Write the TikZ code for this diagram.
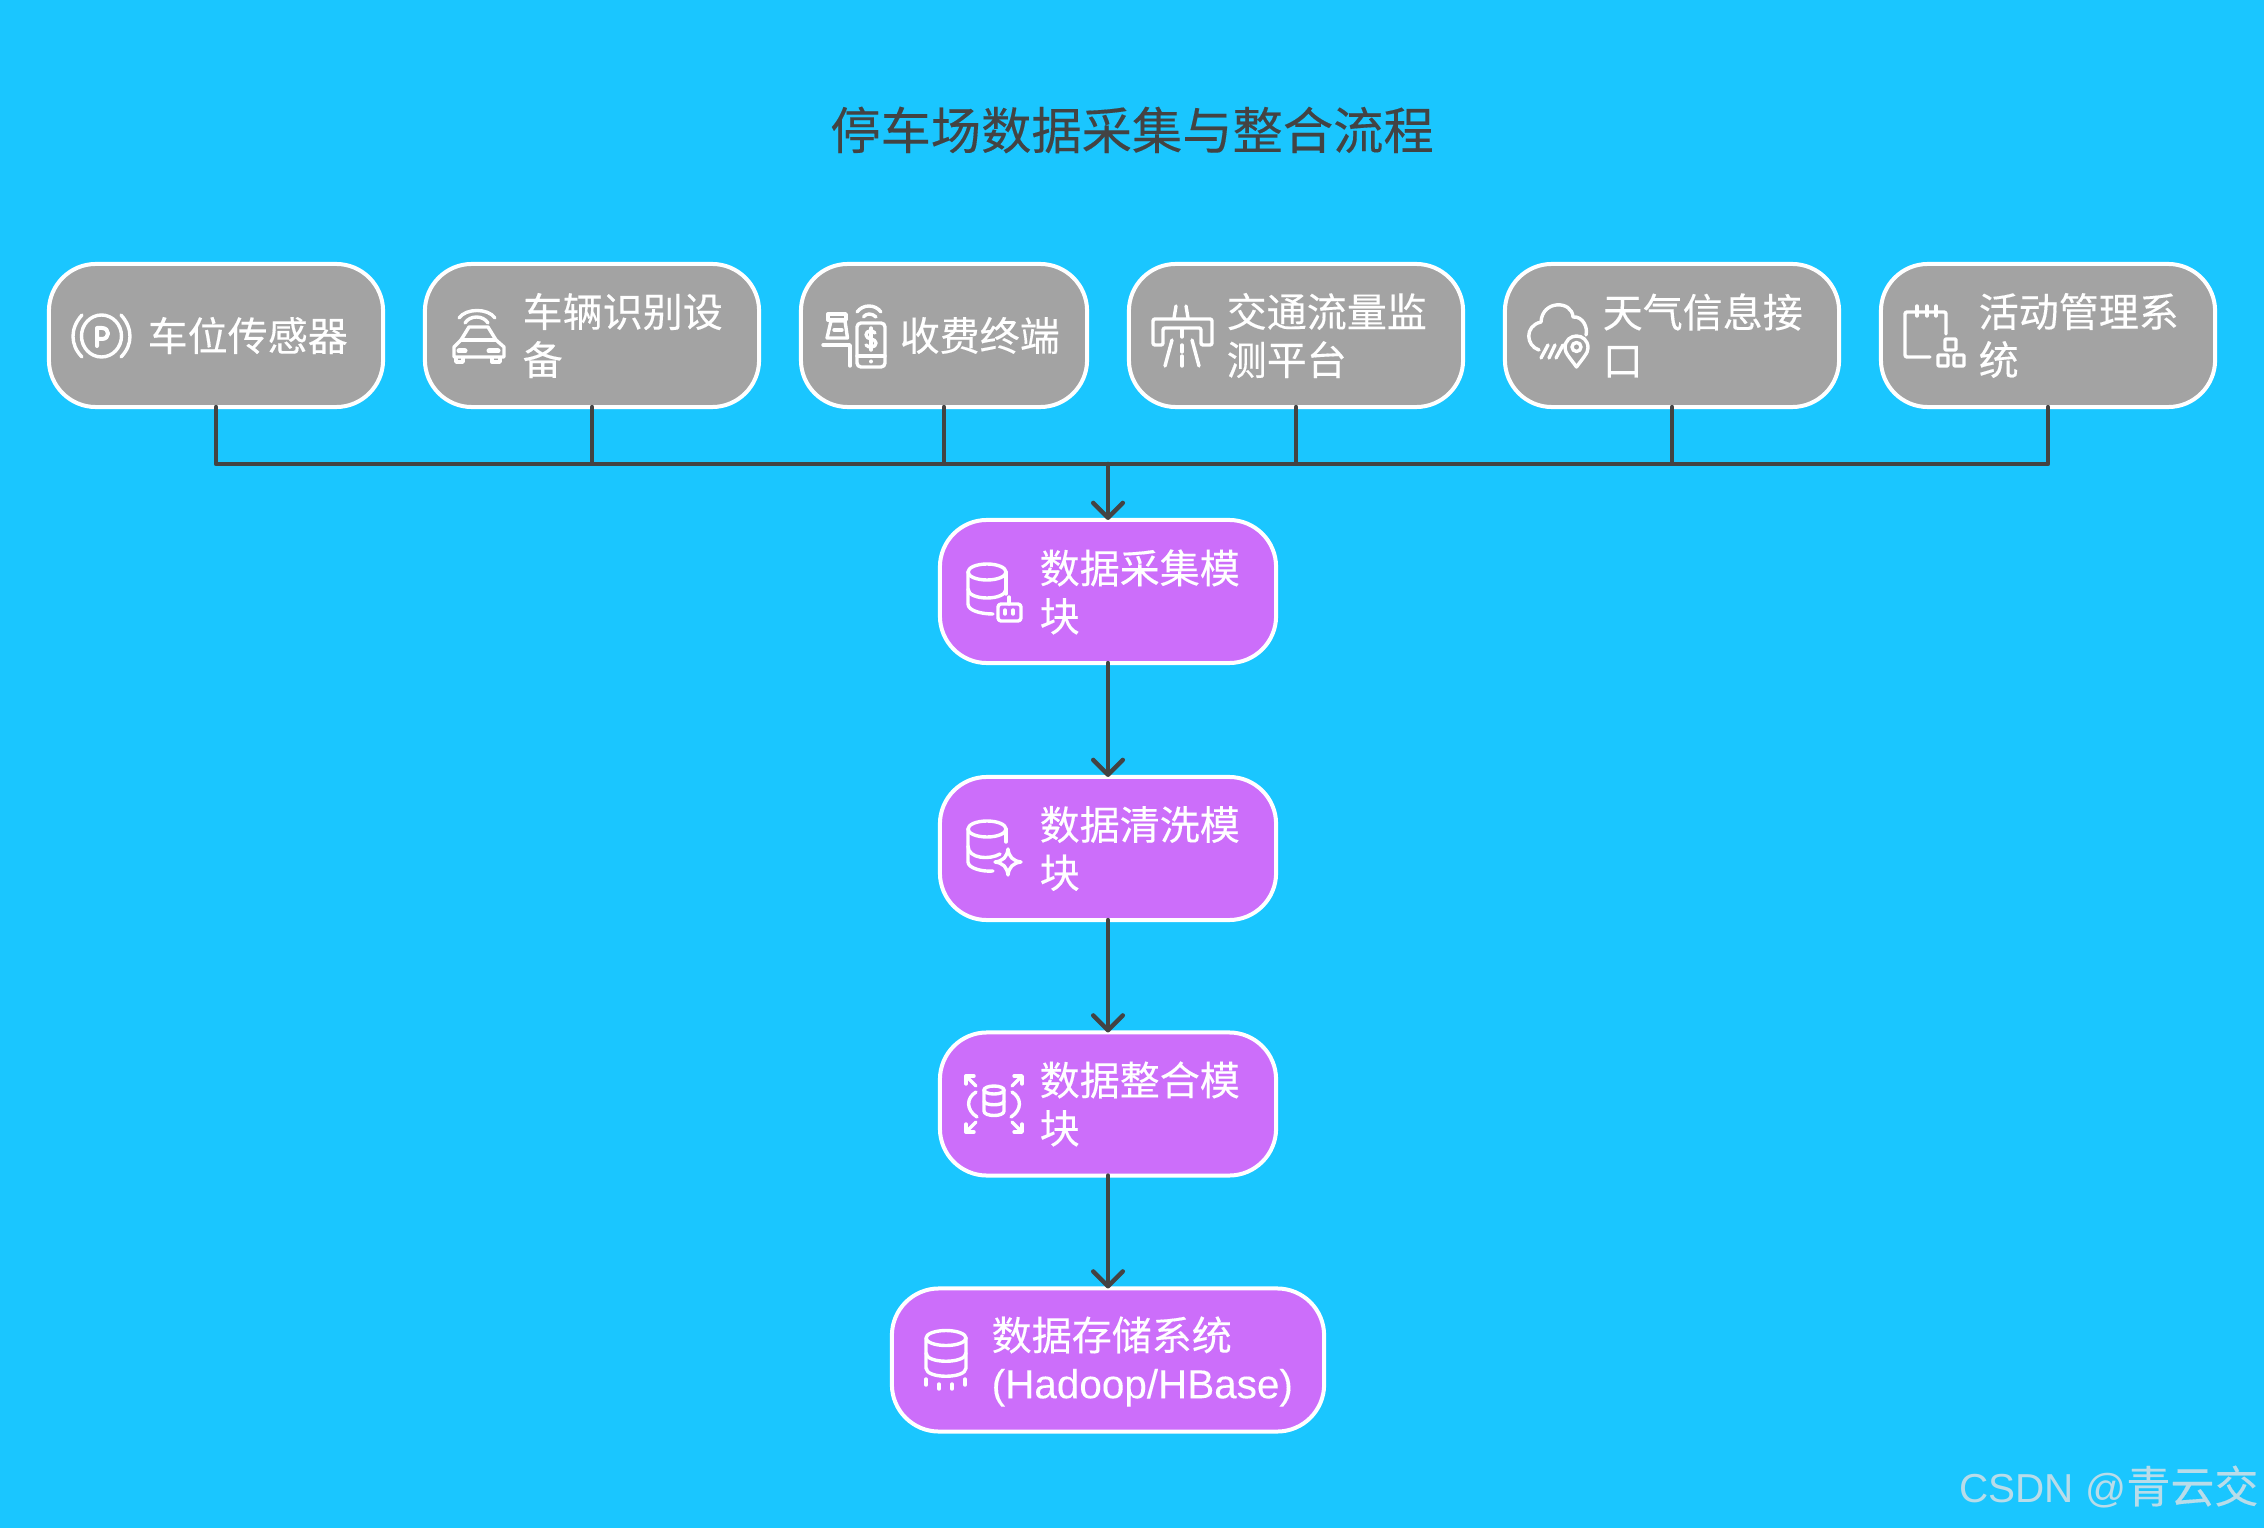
\documentclass[tikz,border=0pt]{standalone}
\usepackage{fontspec}
\usepackage{xcolor}
\usepackage{tikz}
\usetikzlibrary{arrows.meta}
\setmainfont[FakeBold=0.25]{Noto Sans CJK SC}
\newfontfamily\latinfont[FakeBold=0.15]{Liberation Sans}
\newfontfamily\markfont{Liberation Sans}
\definecolor{skybg}{HTML}{1AC6FF}
\definecolor{greyfill}{HTML}{A3A3A3}
\definecolor{purplefill}{HTML}{CC6EFA}
\definecolor{inkgrey}{HTML}{434343}
\definecolor{markgrey}{HTML}{B8DCE9}
\tikzset{>={Straight Barb[length=4.2pt,width=8.4pt,round]}}
\tikzset{
  boxbase/.style={draw=white,line width=0.04cm,rounded corners=0.47cm,inner sep=0pt,outer sep=0pt,minimum height=1.43cm},
  greybox/.style={boxbase,fill=greyfill,minimum width=3.34cm},
  midbox/.style={boxbase,fill=purplefill,minimum width=3.36cm},
  storebox/.style={boxbase,fill=purplefill,minimum width=4.32cm},
  boxtext/.style={anchor=west,align=left,text=white,inner sep=0pt,font=\fontsize{11.38pt}{13.66pt}\selectfont},
  link/.style={draw=inkgrey,line width=0.045cm,line cap=round,line join=round},
  icon/.style={draw=white,line width=0.034cm,line cap=round,line join=round}
}

\begin{document}
\begin{tikzpicture}[x=0.01cm,y=-0.01cm]
        % Background
        \fill[skybg] (0,0) rectangle (2264,1528);
        \useasboundingbox (0,0) rectangle (2264,1528);
        \node[text=inkgrey,font=\fontsize{14.3pt}{17pt}\selectfont] at (1132, 130) (title) {停车场数据采集与整合流程};

        % Sources
        \node[greybox] at (216, 335.5) (sensor) {};
        \node[greybox] at (592, 335.5) (camera) {};
        \node[greybox,minimum width=2.86cm] at (944, 335.5) (toll) {};
        \node[greybox] at (1296, 335.5) (traffic) {};
        \node[greybox] at (1672, 335.5) (weather) {};
        \node[greybox] at (2048, 335.5) (events) {};
        \node[boxtext] at (147, 335.5) (sensortext) {车位传感器};
        \node[boxtext] at (522, 335.5) (cameratext) {车辆识别设\\备};
        \node[boxtext] at (899, 335.5) (tolltext) {收费终端};
        \node[boxtext] at (1226, 335.5) (traffictext) {交通流量监\\测平台};
        \node[boxtext] at (1602, 335.5) (weathertext) {天气信息接\\口};
        \node[boxtext] at (1978, 335.5) (eventstext) {活动管理系\\统};

        % Modules
        \node[midbox] at (1108, 591.5) (collect) {};
        \node[midbox] at (1108, 848.5) (clean) {};
        \node[midbox] at (1108, 1104) (merge) {};
        \node[storebox] at (1108, 1360) (store) {};
        \node[boxtext] at (1039, 592) (collecttext) {数据采集模\\块};
        \node[boxtext] at (1039, 848.5) (cleantext) {数据清洗模\\块};
        \node[boxtext] at (1039, 1104) (mergetext) {数据整合模\\块};
        \node[boxtext] at (991, 1361.5) (storetext) {数据存储系统\\{\latinfont\fontsize{11.5pt}{13.66pt}\selectfont (Hadoop/HBase)}};

        % Connectors
        \coordinate (bus) at (1108, 464);
        \draw[link] (sensor.south) |- (bus);
        \draw[link] (camera.south) |- (bus);
        \draw[link] (toll.south) |- (bus);
        \draw[link] (traffic.south) |- (bus);
        \draw[link] (weather.south) |- (bus);
        \draw[link] (events.south) |- (bus);
        \draw[link,->] (bus) -- (collect.north);
        \draw[link,->] (collect.south) -- (clean.north);
        \draw[link,->] (clean.south) -- (merge.north);
        \draw[link,->] (merge.south) -- (store.north);

        % Parking icon
        \draw[icon] (101.5,336) ellipse [x radius=20,y radius=21];
        \draw[icon] (82,315) .. controls (70,328) and (70,345) .. (82,357);
        \draw[icon] (121,315) .. controls (133,328) and (133,345) .. (121,357);
        \draw[icon,line width=0.04cm] (97,346) -- (97,328) -- (102,328) .. controls (110,328) and (110,339) .. (102,339) -- (97,339);

        % Car icon
        \draw[icon] (459,318) .. controls (466,308) and (488,308) .. (495,318);
        \draw[icon] (465,323) .. controls (470,315) and (483,315) .. (488,323);
        \draw[icon] (469,327) -- (488,327) -- (496,340) -- (504,347) -- (504,357) -- (454,357) -- (454,347) -- (461,340) -- cycle;
        \draw[icon] (461,340) -- (496,340);
        \draw[icon,line width=0.05cm] (459,351) -- (465,351);
        \draw[icon,line width=0.05cm] (489,351) -- (498,351);
        \draw[icon] (456,358) -- (456,362) -- (463,362) -- (463,358);
        \draw[icon] (492,358) -- (492,362) -- (500,362) -- (500,358);

        % Toll icon
        \draw[icon,rounded corners=0.04cm] (857,323) rectangle (885,367);
        \draw[icon] (857,356) -- (885,356);
        \fill[white] (871,361.5) circle [radius=2];
        \draw[icon] (875,333) .. controls (873,330) and (866,330) .. (866,335) .. controls (866,340) and (876,338) .. (876,343) .. controls (876,348) and (868,348) .. (866,345);
        \draw[icon] (871,328) -- (871,350);
        \draw[icon] (857,312) .. controls (863,304) and (875,304) .. (881,312);
        \draw[icon] (863.5,317) .. controls (866,313) and (872,313) .. (876,317);
        \draw[icon] (828,314) rectangle (846,320);
        \draw[icon] (831,321) -- (845,321) -- (847.5,338) -- (827,338) -- cycle;
        \draw[icon] (834,330) -- (842,330);
        \draw[icon] (823,345) -- (850,345) -- (850,366);

        % Gantry icon
        \draw[icon,rounded corners=0.02cm] (1153,345) -- (1153,319) -- (1212,319) -- (1212,345) -- (1201,345) -- (1201,328) -- (1163,328) -- (1163,345) -- cycle;
        \draw[icon] (1176,306) -- (1174,318);
        \draw[icon] (1186,306) -- (1188,318);
        \draw[icon] (1172,340) -- (1165,366);
        \draw[icon] (1192,340) -- (1199,366);
        \draw[icon] (1182,329) -- (1182,337);
        \draw[icon] (1182,345) -- (1182,352);
        \draw[icon] (1182,356) -- (1182,366);

        % Weather icon
        \draw[icon] (1539,350) .. controls (1526,346) and (1524,326) .. (1541,322) .. controls (1542,300) and (1572,300) .. (1573,317) .. controls (1583,316) and (1588,328) .. (1586,335);
        \draw[icon] (1541,358) -- (1548,345);
        \draw[icon] (1549,358) -- (1555,345);
        \draw[icon] (1556,358) -- (1563,345);
        \draw[icon] (1576.5,367) .. controls (1570,358) and (1565,353) .. (1565,348) .. controls (1565,332) and (1588,332) .. (1588,348) .. controls (1588,353) and (1583,358) .. (1576.5,367) -- cycle;
        \draw[icon] (1576.5,347) circle [radius=4.5];

        % Calendar icon
        \draw[icon,rounded corners=0.02cm] (1946,334) -- (1946,312) -- (1905,312) -- (1905,357) -- (1930,357);
        \draw[icon] (1917,306) -- (1917,316);
        \draw[icon] (1927,306) -- (1927,316);
        \draw[icon] (1936,306) -- (1936,316);
        \draw[icon,rounded corners=0.01cm] (1945,339) rectangle (1956,350);
        \draw[icon,rounded corners=0.01cm] (1938,355) rectangle (1948,366);
        \draw[icon,rounded corners=0.01cm] (1954,355) rectangle (1964,366);

        % Collect icon
        \draw[icon] (987,572) ellipse [x radius=19,y radius=8];
        \draw[icon] (968,572) -- (968,604) .. controls (968,611) and (982,614) .. (993,614);
        \draw[icon] (1006,572) -- (1006,594);
        \draw[icon] (968,589) .. controls (968,601) and (1006,601) .. (1006,589);
        \draw[icon,rounded corners=0.03cm] (998,604) rectangle (1021,621);
        \draw[icon] (1009,597) -- (1009,604);
        \draw[icon] (1005,610) -- (1005,614);
        \draw[icon] (1013,610) -- (1013,614);

        % Clean icon
        \draw[icon] (987,829) ellipse [x radius=19,y radius=8];
        \draw[icon] (968,829) -- (968,862) .. controls (968,868) and (982,872) .. (993,871);
        \draw[icon] (1006,829) -- (1006,842);
        \draw[icon] (968,846) .. controls (968,859) and (990,860) .. (1000,854);
        \draw[icon] (1008,849) .. controls (1009,857) and (1013,861) .. (1021,862) .. controls (1013,863) and (1009,867) .. (1008,875) .. controls (1007,867) and (1003,863) .. (995,862) .. controls (1003,861) and (1007,857) .. (1008,849) -- cycle;

        % Merge icon
        \draw[icon] (994,1090) ellipse [x radius=10,y radius=4];
        \draw[icon] (984,1090) -- (984,1111) .. controls (984,1117) and (1004,1117) .. (1004,1111) -- (1004,1090);
        \draw[icon] (984,1101) .. controls (984,1106) and (1004,1106) .. (1004,1101);
        \draw[icon] (976,1092) .. controls (966,1098) and (966,1110) .. (977,1117);
        \draw[icon] (1012,1092) .. controls (1022,1098) and (1022,1110) .. (1011,1117);
        \foreach \sx/\sy in {-1/-1,1/-1,-1/1,1/1} {
          \draw[icon] (994+\sx*18,1104+\sy*18) -- (994+\sx*28,1104+\sy*28);
          \draw[icon] (994+\sx*28,1104+\sy*20) -- (994+\sx*28,1104+\sy*28) -- (994+\sx*20,1104+\sy*28);
        }

        % Store icon
        \draw[icon] (946,1338) ellipse [x radius=20,y radius=7.5];
        \draw[icon] (926,1338) -- (926,1368) .. controls (926,1379) and (966,1379) .. (966,1368) -- (966,1338);
        \draw[icon] (926,1353) .. controls (926,1364) and (966,1364) .. (966,1353);
        \draw[icon] (926,1379) -- (926,1385);
        \draw[icon] (939,1384) -- (939,1389);
        \draw[icon] (952,1384) -- (952,1389);
        \draw[icon] (965,1379) -- (965,1385);

        % Mark
        \node[anchor=east,inner sep=0pt,text=markgrey,font=\fontsize{12.5pt}{15pt}\selectfont] at (2259, 1487) (mark) {{\markfont\fontsize{11.5pt}{15pt}\selectfont CSDN @}青云交};
\end{tikzpicture}
\end{document}
